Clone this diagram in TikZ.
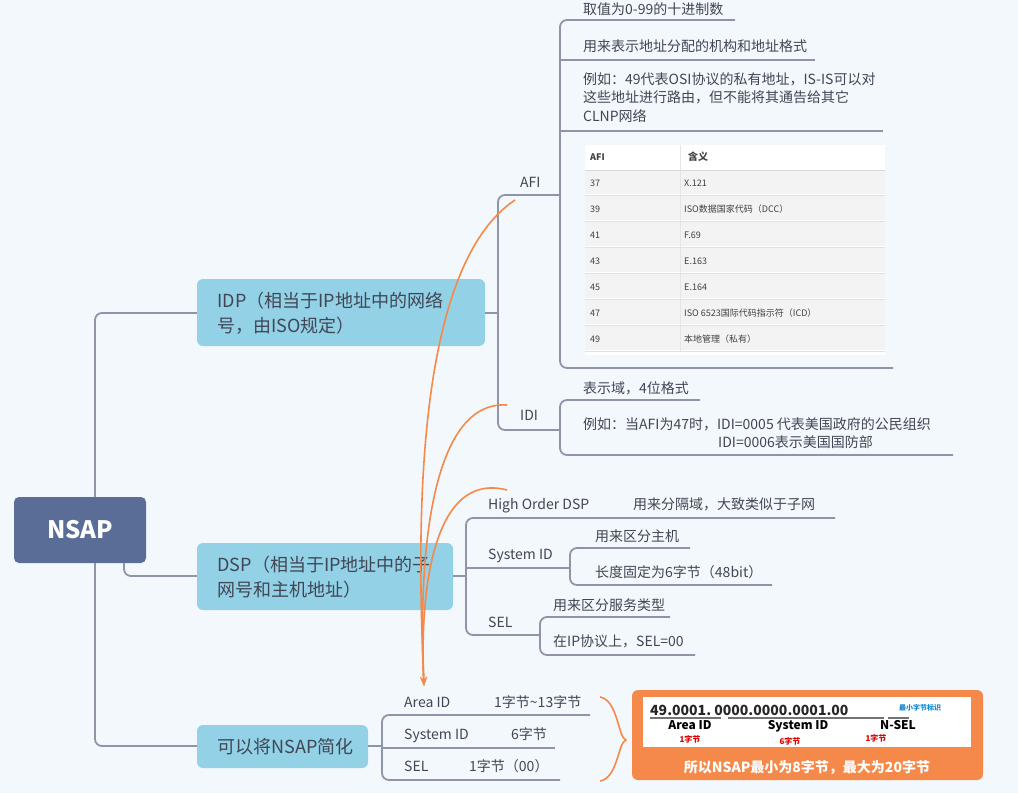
\documentclass[tikz,border=0pt]{standalone}
\usepackage{fontspec}
\setmainfont{Noto Sans CJK SC}
\usetikzlibrary{arrows.meta}
\definecolor{bg}{HTML}{F3F8FC}
\definecolor{ln}{HTML}{8D96A8}
\definecolor{tx}{HTML}{404654}
\definecolor{rootc}{HTML}{5A6D97}
\definecolor{boxc}{HTML}{93D1E7}
\definecolor{org}{HTML}{F5894A}
\definecolor{rowg}{HTML}{F3F3F3}
\tikzset{
  t/.style={anchor=base west,text=tx,font=\fontsize{14}{17}\selectfont,inner sep=0pt},
  bx/.style={fill=boxc,rounded corners=6pt,text=tx,font=\fontsize{18}{24}\selectfont,anchor=north west,inner sep=0pt},
  br/.style={draw=ln,line width=1.8pt,rounded corners=7pt},
  tb/.style={anchor=west,text=black!75,font=\fontsize{9}{11}\selectfont,inner sep=0pt},
  oc/.style={draw=org,line width=1.6pt,-{Stealth[length=9pt]}}
}
\begin{document}
\begin{tikzpicture}[x=1pt,y=-1pt]
\fill[bg] (0,0) rectangle (1018,793);
\useasboundingbox (0,0) rectangle (1018,793);
% root
\node[fill=rootc,rounded corners=5pt,minimum width=132pt,minimum height=66pt,text=white,font=\fontsize{24}{28}\selectfont\bfseries] (root) at (80,530) {NSAP};
% main connectors
\draw[br] (95,497) -- (95,313) -- (197,313);
\draw[br] (124,563) -- (124,576) -- (197,576);
\draw[br] (95,563) -- (95,746) -- (197,746);
% main boxes
\fill[boxc,rounded corners=6pt] (197,279) rectangle (485,346);
\node[text=tx,font=\fontsize{18}{25}\selectfont,anchor=west,align=left] (idp) at (214,313) {IDP（相当于IP地址中的网络\\号，由ISO规定）};
\fill[boxc,rounded corners=6pt] (197,543) rectangle (453,610);
\node[text=tx,font=\fontsize{18}{25}\selectfont,anchor=west,align=left] (dsp) at (214,577) {DSP（相当于IP地址中的子\\网号和主机地址）};
\fill[boxc,rounded corners=6pt] (197,725) rectangle (368,768);
\node[text=tx,font=\fontsize{18}{24}\selectfont,anchor=west] (simp) at (214,747) {可以将NSAP简化};
% IDP branches
\draw[br] (485,313) -- (498,313);
\draw[br] (560,195) -- (498,195) -- (498,430) -- (560,430);
\node[t] (afi) at (520,187) {AFI};
\node[t] (idi) at (520,420) {IDI};
% AFI children
\draw[br] (735,20) -- (560,20) -- (560,368) -- (893,368);
\draw[line width=1.8pt,ln] (560,60) -- (815,60) (560,131) -- (883,131);
\node[t] (a1) at (583,14) {取值为0-99的十进制数};
\node[t] (a2) at (583,51) {用来表示地址分配的机构和地址格式};
\node[t,align=left,anchor=north west,font=\fontsize{14}{18.5}\selectfont] (a3) at (583,72) {例如：49代表OSI协议的私有地址，IS-IS可以对\\这些地址进行路由，但不能将其通告给其它\\CLNP网络};
% table
\fill[white] (585,145) rectangle (885,355);
\foreach \i/\a/\b in {0/37/X.121,1/39/ISO数据国家代码（DCC）,2/41/F.69,3/43/E.163,4/45/E.164,5/47/ISO 6523国际代码指示符（ICD）,6/49/本地管理（私有）}{
  \pgfmathsetmacro\yy{170+26*\i}
  \fill[rowg] (585,\yy) rectangle (885,\yy+24);
  \draw[black!12,line width=1pt] (585,\yy+25) -- (885,\yy+25);
  \node[tb] (r\i a) at (590,\yy+13) {\a};
  \node[tb] (r\i b) at (684,\yy+13) {\b};
}
\draw[black!10,line width=1pt] (680,145) -- (680,352);
\draw[black!15,line width=1pt] (585,170) -- (885,170);
\node[tb,font=\fontsize{9}{11}\selectfont\bfseries] (h1) at (590,157) {AFI};
\node[tb,font=\fontsize{10}{11}\selectfont\bfseries] (h2) at (688,157) {含义};
% IDI children
\draw[br] (700,400) -- (560,400) -- (560,455) -- (953,455);
\node[t] (i1) at (583,393) {表示域，4位格式};
\node[t] (i2) at (583,429) {例如：当AFI为47时，IDI=0005 代表美国政府的公民组织};
\node[t] (i3) at (718,447) {IDI=0006表示美国国防部};
% DSP branches
\draw[br] (453,576) -- (466,576);
\draw[br] (835,518) -- (466,518) -- (466,635) -- (540,635);
\draw[line width=1.8pt,ln] (466,568) -- (570,568);
\node[t] (hod) at (488,509) {High Order DSP};
\node[t] (hod1) at (633,509) {用来分隔域，大致类似于子网};
\node[t] (sid) at (488,559) {System ID};
\node[t] (sel) at (488,627) {SEL};
\draw[br] (690,548) -- (570,548) -- (570,585) -- (772,585);
\node[t] (s1) at (595,541) {用来区分主机};
\node[t] (s2) at (595,577) {长度固定为6字节（48bit）};
\draw[br] (670,617) -- (540,617) -- (540,655) -- (695,655);
\node[t] (e1) at (553,610) {用来区分服务类型};
\node[t] (e2) at (553,646) {在IP协议上，SEL=00};
% simplify branches
\draw[br] (368,746) -- (382,746);
\draw[br] (590,715) -- (382,715) -- (382,780) -- (560,780);
\draw[line width=1.8pt,ln] (382,748) -- (555,748);
\node[t] (ar) at (404,707) {Area ID};
\node[t] (ar1) at (494,707) {1字节\textasciitilde13字节};
\node[t] (sy) at (404,739) {System ID};
\node[t] (sy1) at (511,739) {6字节};
\node[t] (se) at (404,771) {SEL};
\node[t] (se1) at (469,771) {1字节（00）};
% orange arrows
\draw[oc] (515,200) .. controls (410,270) and (418,550) .. (424,686);
\draw[oc] (507,405) .. controls (430,400) and (418,560) .. (424,686);
\draw[oc] (507,490) .. controls (430,470) and (420,600) .. (424,686);
% bracket
\draw[org,line width=1.6pt] (600,697) .. controls (618,700) and (618,738) .. (626,740) .. controls (618,742) and (618,778) .. (600,781);
% orange box
\fill[org,rounded corners=6pt] (632,690) rectangle (983,780);
\fill[white] (643,697) rectangle (971,747);
\node[anchor=base west,inner sep=0pt,font=\fontsize{14}{16}\selectfont\bfseries,text=black!85] (n1) at (650,715) {49.0001.~0000.0000.0001.00};
\draw[black!55,line width=1.6pt] (650,718) -- (721,718) (728,718) -- (884,718) (888,718) -- (909,718);
\node[anchor=base west,inner sep=0pt,font=\fontsize{7}{8}\selectfont\bfseries,text=cyan!70!blue] (n2) at (899,710) {最小字节标识};
\node[anchor=base,inner sep=0pt,font=\fontsize{12}{14}\selectfont\bfseries] (n3) at (690,729) {Area ID};
\node[anchor=base,inner sep=0pt,font=\fontsize{12}{14}\selectfont\bfseries] (n4) at (798,729) {System ID};
\node[anchor=base,inner sep=0pt,font=\fontsize{12}{14}\selectfont\bfseries] (n5) at (898,729) {N-SEL};
\node[anchor=base,inner sep=0pt,font=\fontsize{8}{9}\selectfont\bfseries,text=red!85!black] (n6) at (690,742) {1字节};
\node[anchor=base,inner sep=0pt,font=\fontsize{8}{9}\selectfont\bfseries,text=red!85!black] (n7) at (790,744) {6字节};
\node[anchor=base,inner sep=0pt,font=\fontsize{8}{9}\selectfont\bfseries,text=red!85!black] (n8) at (876,741) {1字节};
\node[anchor=base,inner sep=0pt,font=\fontsize{14}{16}\selectfont\bfseries,text=white] (n9) at (807,772) {所以NSAP最小为8字节，最大为20字节};
\end{tikzpicture}
\end{document}
